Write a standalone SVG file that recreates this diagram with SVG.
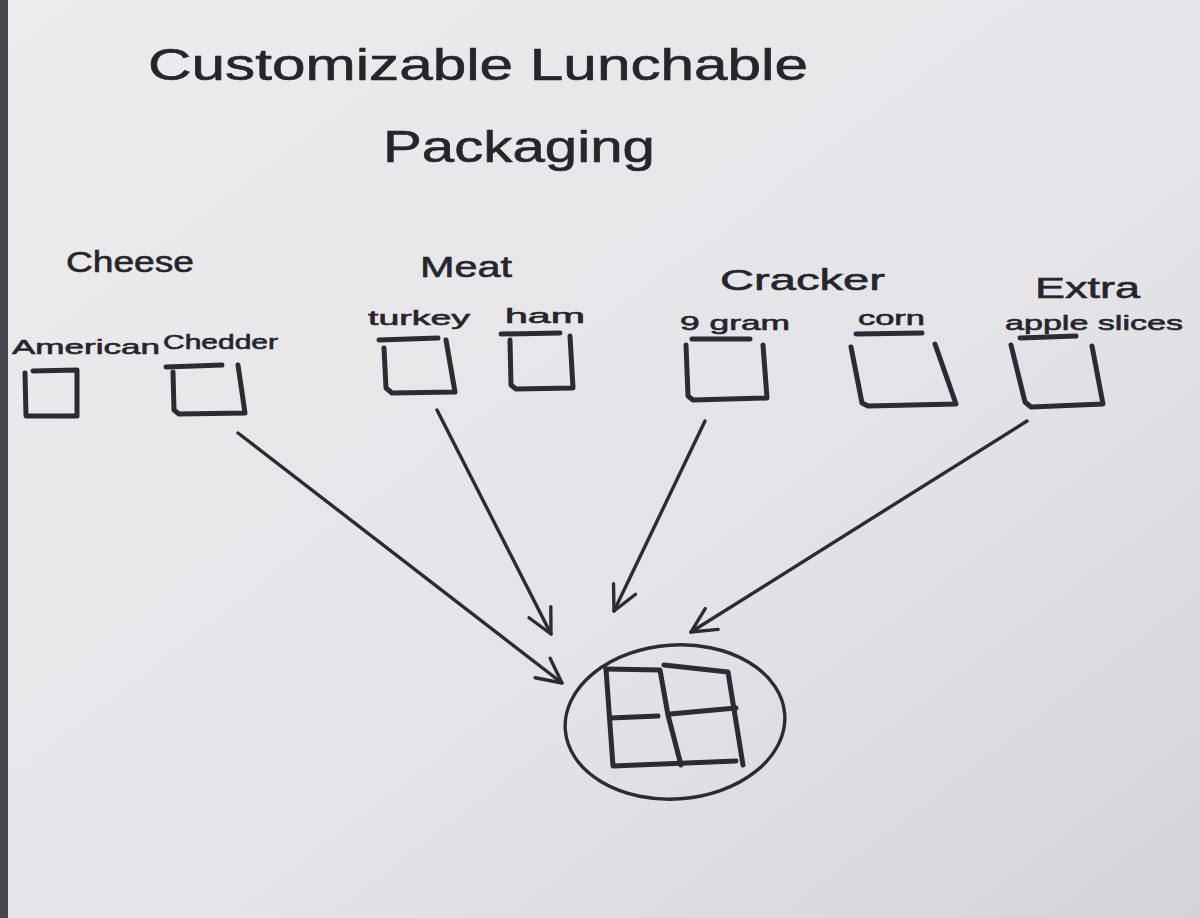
<svg xmlns="http://www.w3.org/2000/svg" width="1200" height="918" viewBox="0 0 1200 918">
<defs>
<linearGradient id="paper" x1="0" y1="0" x2="1" y2="1">
<stop offset="0" stop-color="#ececee"/>
<stop offset="0.6" stop-color="#e4e4e8"/>
<stop offset="1" stop-color="#d4d4d8"/>
</linearGradient>
<marker id="ah" viewBox="0 0 20 20" refX="18" refY="10" markerWidth="9" markerHeight="9" markerUnits="strokeWidth" orient="auto">
<path d="M2,2 L18,10 L2,18" fill="none" stroke="#2c2b33" stroke-width="2.2" stroke-linecap="round" stroke-linejoin="round"/>
</marker>
<style>
.ink{fill:none;stroke:#2c2b33;stroke-width:5;stroke-linecap:round;stroke-linejoin:round}
.thin{fill:none;stroke:#2c2b33;stroke-width:3.4;stroke-linecap:round}
.t{font-family:"Liberation Sans",Arial,sans-serif;fill:#26252c;stroke:#26252c;stroke-width:0.6}
.big{font-size:44px}
.hd{font-size:30px}
.sm{font-size:21px}
</style>
</defs>
<rect width="1200" height="918" fill="url(#paper)"/>
<rect x="0" y="0" width="8" height="918" fill="#44444a"/>

<g id="title">
<text class="t big" x="148" y="80" textLength="660" lengthAdjust="spacingAndGlyphs">Customizable  Lunchable</text>
<text class="t big" x="383" y="162" textLength="272" lengthAdjust="spacingAndGlyphs">Packaging</text>
</g>

<g id="headers">
<text class="t hd" x="66" y="272" textLength="128" lengthAdjust="spacingAndGlyphs">Cheese</text>
<text class="t hd" x="420" y="277" textLength="92" lengthAdjust="spacingAndGlyphs">Meat</text>
<text class="t hd" x="720" y="290" textLength="165" lengthAdjust="spacingAndGlyphs">Cracker</text>
<text class="t hd" x="1035" y="298" textLength="105" lengthAdjust="spacingAndGlyphs">Extra</text>
</g>

<g id="node-american">
<text class="t sm" x="12" y="354" textLength="148" lengthAdjust="spacingAndGlyphs">American</text>
<path class="ink" d="M33,371 L77,370 L77,416 L26,416 L25,373"/>
</g>
<g id="node-chedder">
<text class="t sm" x="163" y="349" textLength="115" lengthAdjust="spacingAndGlyphs">Chedder</text>
<path class="ink" d="M166,367 L222,365"/>
<path class="ink" d="M173,372 L174,410 L179,414 L245,413 L238,365"/>
</g>
<g id="node-turkey">
<text class="t sm" x="368" y="325" textLength="102" lengthAdjust="spacingAndGlyphs">turkey</text>
<path class="ink" d="M379,340 L438,338"/>
<path class="ink" d="M384,348 L386,388 L392,393 L455,392 L446,340"/>
</g>
<g id="node-ham">
<text class="t sm" x="505" y="323" textLength="80" lengthAdjust="spacingAndGlyphs">ham</text>
<path class="ink" d="M501,334 L560,333"/>
<path class="ink" d="M510,340 L511,385 L516,389 L573,388 L570,336"/>
</g>
<g id="node-9gram">
<text class="t sm" x="680" y="330" textLength="110" lengthAdjust="spacingAndGlyphs">9 gram</text>
<path class="ink" d="M692,339 L750,339"/>
<path class="ink" d="M686,345 L688,396 L693,400 L767,398 L763,345"/>
</g>
<g id="node-corn">
<text class="t sm" x="858" y="325" textLength="67" lengthAdjust="spacingAndGlyphs">corn</text>
<path class="ink" d="M856,334 L922,333"/>
<path class="ink" d="M851,347 L862,403 L868,406 L956,404 L935,344"/>
</g>
<g id="node-apple">
<text class="t sm" x="1005" y="330" textLength="178" lengthAdjust="spacingAndGlyphs">apple slices</text>
<path class="ink" d="M1020,338 L1076,336"/>
<path class="ink" d="M1011,345 L1025,402 L1031,407 L1103,404 L1092,346"/>
</g>

<g id="node-package">
<ellipse cx="675" cy="722" rx="110" ry="77" transform="rotate(-4 675 722)" class="thin"/>
<path class="ink" d="M606,669 L660,670 L668,715 L681,765"/>
<path class="ink" d="M664,665 L728,672 L743,765"/>
<path class="ink" d="M606,669 L613,766 L736,761"/>
<path class="ink" d="M610,718 L658,716"/>
<path class="ink" d="M670,714 L736,708"/>
</g>

<g id="connectors">
<path class="thin" d="M238,433 L562,683" marker-end="url(#ah)"/>
<path class="thin" d="M437,410 L551,634" marker-end="url(#ah)"/>
<path class="thin" d="M705,421 L614,611" marker-end="url(#ah)"/>
<path class="thin" d="M1027,421 L691,632" marker-end="url(#ah)"/>
</g>
</svg>
